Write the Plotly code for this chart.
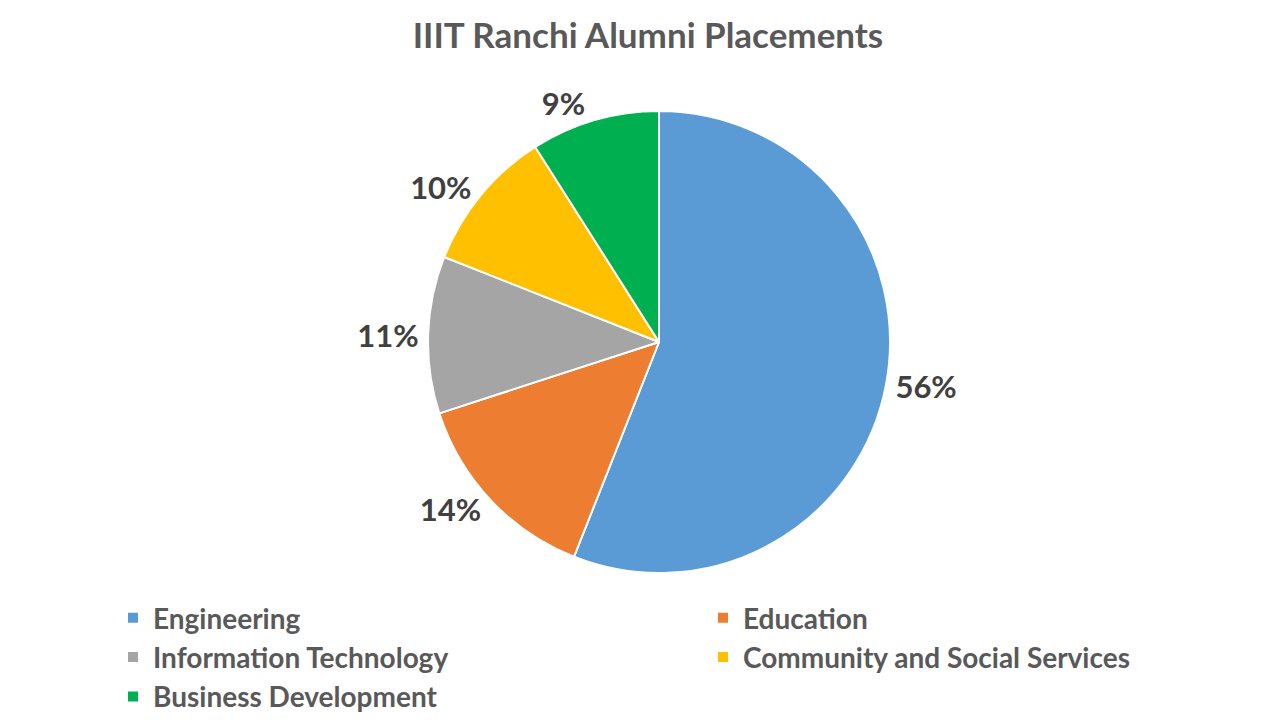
import plotly.graph_objects as go

categories = ["Engineering", "Education", "Information Technology",
              "Community and Social Services", "Business Development"]
values = [56, 14, 11, 10, 9]
colors = ["#5B9BD5", "#ED7D31", "#A5A5A5", "#FFC000", "#00B050"]

W, H = 1280, 720
cx, cy = 651, 334
hx, hy = 300, 231

fig = go.Figure(go.Pie(
    labels=categories,
    values=values,
    sort=False,
    direction="clockwise",
    rotation=0,
    marker=dict(colors=colors, line=dict(color="white", width=2)),
    textinfo="percent",
    texttemplate="%{percent:.0%}",
    textposition="outside",
    textfont=dict(family="Lato", size=31, color="#404040", weight="bold"),
    domain=dict(x=[(cx - hx) / W, (cx + hx) / W], y=[1 - (cy + hy) / H, 1 - (cy - hy) / H]),
    hoverinfo="label+percent",
))

fig.update_layout(
    width=W, height=H,
    margin=dict(l=0, r=0, t=0, b=0, autoexpand=False),
    paper_bgcolor="white",
    title=dict(text="<b>IIIT Ranchi Alumni Placements</b>", x=0.5, xanchor="center",
               y=1 - 28 / H, yanchor="middle",
               font=dict(family="Lato", size=35, color="#595959")),
    legend=dict(orientation="h", x=105 / W, xanchor="left", y=1 - 585 / H, yanchor="top",
                entrywidth=545, entrywidthmode="pixels",
                font=dict(family="Lato", size=28, color="#595959", weight="bold"),
                itemwidth=30, tracegroupgap=0),
    showlegend=True,
)

fig.write_html("out.html")
